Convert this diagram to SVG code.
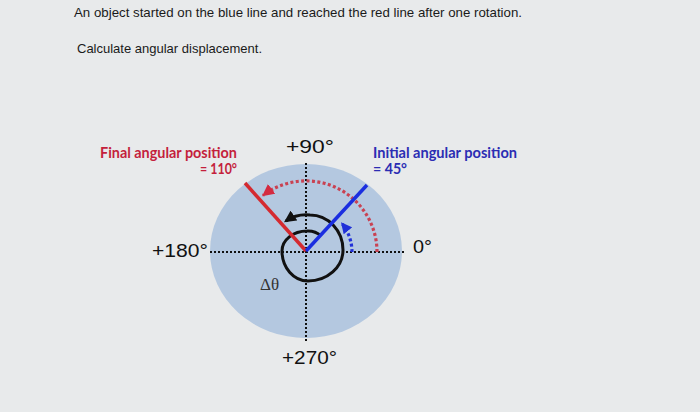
<svg xmlns="http://www.w3.org/2000/svg" width="700" height="412" viewBox="0 0 700 412">
<style>
.q{font-family:"Liberation Sans",Arial,sans-serif;fill:#1a1a1a}
.deg{font-family:"Liberation Sans",Arial,sans-serif;fill:#111;font-size:18.5px}
.lbl{font-family:Lato,"Liberation Sans",sans-serif;font-weight:bold;font-size:14.5px}
.red{fill:#c41f3c}
.blue{fill:#2b2db3}
.axis{stroke:#111;stroke-width:2;stroke-dasharray:2 2;fill:none}
.dotr{stroke:#c94252;stroke-width:3.2;stroke-dasharray:3 2.4;fill:none}
.dotb{stroke:#2030d8;stroke-width:3.2;stroke-dasharray:3 2.4;fill:none}
</style>
<defs>
<marker id="ar" viewBox="0 0 10 10" refX="9" refY="5" markerWidth="12" markerHeight="12" markerUnits="userSpaceOnUse" orient="auto"><path d="M0,0 L10,5 L0,10 z" fill="#d42a40"/></marker>
<marker id="ab" viewBox="0 0 10 10" refX="9" refY="5" markerWidth="11" markerHeight="11" markerUnits="userSpaceOnUse" orient="auto"><path d="M0,0 L10,5 L0,10 z" fill="#2030d8"/></marker>
<marker id="ak" viewBox="0 0 10 10" refX="8" refY="5" markerWidth="12" markerHeight="12" markerUnits="userSpaceOnUse" orient="auto"><path d="M0,0 L10,5 L0,10 z" fill="#111"/></marker>
</defs>
<rect width="700" height="412" fill="#e8eaeb"/>
<text class="q" x="74" y="17" font-size="13.3" textLength="448" lengthAdjust="spacingAndGlyphs">An object started on the blue line and reached the red line after one rotation.</text>
<text class="q" x="77" y="53" font-size="13" textLength="185" lengthAdjust="spacingAndGlyphs">Calculate angular displacement.</text>

<g id="disc">
<ellipse cx="306" cy="251" rx="96" ry="87" fill="#b4c8e0"/>
</g>
<g id="axes">
<line class="axis" x1="210" y1="252" x2="404" y2="252"/>
<line class="axis" x1="306" y1="163" x2="306" y2="341"/>
</g>
<g id="connectors">
<path class="dotr" d="M377 252 A71 71 0 0 0 263 195.4" marker-end="url(#ar)"/>
<path class="dotb" d="M352 252 A46 46 0 0 0 341.7 223.1" marker-end="url(#ab)"/>
<path d="M321 236 A19 19 0 0 0 307 231 A25 20 0 0 0 282 251 A26 30 0 0 0 308 281 A35 31 0 0 0 343 250 A33 35 0 0 0 310 215 A36 36 0 0 0 286 221" fill="none" stroke="#111" stroke-width="3" marker-end="url(#ak)"/>
</g>
<g id="final-line"><line x1="306" y1="251" x2="245" y2="183" stroke="#d42a30" stroke-width="3.5"/></g>
<g id="initial-line"><line x1="306" y1="251" x2="367" y2="185" stroke="#1a2ee0" stroke-width="3.5"/></g>

<g id="label-90"><text class="deg" x="286" y="152.5" textLength="48" lengthAdjust="spacingAndGlyphs">+90°</text></g>
<g id="label-180"><text class="deg" x="152" y="256.5" textLength="56" lengthAdjust="spacingAndGlyphs">+180°</text></g>
<g id="label-0"><text class="deg" x="413" y="253" textLength="19" lengthAdjust="spacingAndGlyphs">0°</text></g>
<g id="label-270"><text class="deg" x="282" y="364" textLength="55" lengthAdjust="spacingAndGlyphs">+270°</text></g>
<g id="label-dtheta"><text x="260" y="290" font-family="'Liberation Serif','Times New Roman',serif" font-size="17" fill="#333">Δθ</text></g>

<g id="final-label">
<text class="lbl red" x="100" y="158" textLength="137" lengthAdjust="spacingAndGlyphs">Final angular position</text>
<text class="lbl red" x="200" y="174" textLength="37" lengthAdjust="spacingAndGlyphs">= 110°</text>
</g>
<g id="initial-label">
<text class="lbl blue" x="373" y="158" textLength="144" lengthAdjust="spacingAndGlyphs">Initial angular position</text>
<text class="lbl blue" x="373" y="174" textLength="34" lengthAdjust="spacingAndGlyphs">= 45°</text>
</g>
</svg>
